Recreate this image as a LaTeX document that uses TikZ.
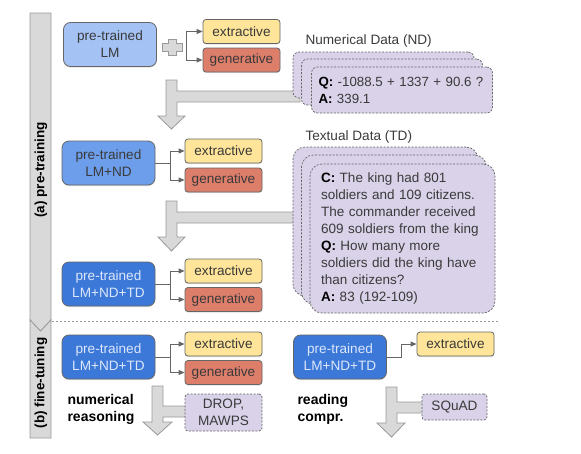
\documentclass[tikz,border=0pt]{standalone}
\usepackage{fontspec}
\setmainfont{Liberation Sans}
\usetikzlibrary{arrows.meta,shadows}
\definecolor{lmColor}{HTML}{A4C2F4}
\definecolor{lmndColor}{HTML}{6D9EEB}
\definecolor{lmndtdColor}{HTML}{3C78D8}
\definecolor{extColor}{HTML}{FFE599}
\definecolor{genColor}{HTML}{DD7E6B}
\definecolor{dataColor}{HTML}{D9D2E9}
\definecolor{barColor}{HTML}{D9D9D9}
\definecolor{barLine}{HTML}{999999}
\definecolor{lineGray}{HTML}{666666}
\definecolor{textGray}{HTML}{3A3A3A}
\definecolor{lightText}{HTML}{DCE7FB}

\begin{document}
\begin{tikzpicture}[x=1pt, y=-1pt, font=\fontsize{13.6}{17}\selectfont, text=textGray,
    lmbox/.style={rectangle, rounded corners=7pt, draw=lineGray, line width=0.8pt, minimum width=93pt, minimum height=44pt, inner sep=0pt, align=center, drop shadow={shadow xshift=0pt, shadow yshift=-1.2pt, opacity=0.25}},
    headbox/.style={rectangle, rounded corners=3pt, draw=lineGray, line width=0.8pt, minimum width=77pt, minimum height=24pt, inner sep=0pt, drop shadow={shadow xshift=0pt, shadow yshift=-1.2pt, opacity=0.25}},
    card/.style={rectangle, rounded corners=#1, draw=lineGray, dash pattern=on 2pt off 1.5pt, line width=0.7pt, fill=dataColor, inner sep=0pt, align=left},
    card/.default=6pt,
    conn/.style={draw=lineGray, line width=0.9pt, -{Triangle[length=6pt,width=5pt]}},
    bigarrow/.style={draw=barLine, fill=barColor, line width=0.8pt},
    sidelabel/.style={rotate=90, text=black, font=\fontsize{13.5}{16}\selectfont\bfseries},
    tasklabel/.style={text=black, align=left, anchor=west, font=\fontsize{14}{17}\selectfont\bfseries},
]
\useasboundingbox (0,0) rectangle (581,453);

% side bars
\draw[bigarrow] (30,13) -- (51,13) -- (51,320) -- (40.5,331) -- (30,320) -- cycle;
\draw[bigarrow] (30,320) -- (40.5,331) -- (51,320) -- (51,438) -- (30,438) -- cycle;
\node[sidelabel] (pretrain) at (41,170) {(a) pre-training};
\node[sidelabel] (finetune) at (41,383) {(b) fine-tuning};
\draw[barLine, line width=0.8pt, dash pattern=on 2pt off 2pt] (52,321) -- (498,321);

% data arrows
\draw[bigarrow] (166,80) -- (177,80) -- (177,91) -- (300,91) -- (300,102) -- (177,102) -- (177,116) -- (185,116) -- (171.5,129) -- (158,116) -- (166,116) -- cycle;
\draw[bigarrow] (166,201) -- (177,201) -- (177,212) -- (300,212) -- (300,223) -- (177,223) -- (177,237) -- (185,237) -- (171.5,251) -- (158,237) -- (166,237) -- cycle;
\draw[bigarrow] (152,386) -- (163,386) -- (163,406) -- (190,406) -- (190,417) -- (163,417) -- (163,422) -- (172,422) -- (157.5,435) -- (143,422) -- (152,422) -- cycle;
\draw[bigarrow] (386,387) -- (397,387) -- (397,402) -- (425,402) -- (425,413) -- (397,413) -- (397,423) -- (405,423) -- (391.5,437) -- (377,423) -- (386,423) -- cycle;

% numerical data
\node[anchor=west] (ndlabel) at (302,41) {Numerical Data (ND)};
\node[card, minimum width=181pt, minimum height=46pt] (ndback) at (383.5,75) {};
\node[card, minimum width=181pt, minimum height=46pt] (ndmid) at (392,82) {};
\node[card, minimum width=181pt, minimum height=46pt, text width=167pt, font=\fontsize{13.3}{17}\selectfont] (ndcard) at (402,90)
    {\textbf{\color{black}Q:} -1088.5 + 1337 + 90.6 ?\\\textbf{\color{black}A:} 339.1};

% textual data
\node[anchor=west] (tdlabel) at (302,137) {Textual Data (TD)};
\node[card=12pt, minimum width=185pt, minimum height=149pt] (tdback) at (385.5,221.5) {};
\node[card=12pt, minimum width=185pt, minimum height=149pt] (tdmid) at (394,229.5) {};
\node[card=12pt, minimum width=185pt, minimum height=149pt, text width=163pt, font=\fontsize{13.5}{17}\selectfont] (tdcard) at (402.5,238.5)
    {\textbf{\color{black}C:} The king had 801\\soldiers and 109 citizens.\\The commander received\\609 soldiers from the king\\\textbf{\color{black}Q:} How many more\\soldiers did the king have\\than citizens?\\\textbf{\color{black}A:} 83 (192-109)};

% pre-training models
\node[lmbox, fill=lmColor] (lm) at (110,44.5) {pre-trained\\LM};
\draw[bigarrow] (168,39) -- (176,39) -- (176,43) -- (182,43) -- (182,51) -- (176,51) -- (176,55) -- (168,55) -- (168,51) -- (162,51) -- (162,43) -- (168,43) -- cycle;
\coordinate (fork) at (186,46);
\node[headbox, fill=extColor] (ext1) at (241.5,31.5) {extractive};
\node[headbox, fill=genColor] (gen1) at (241.5,60) {generative};
\draw[conn] (fork) |- (ext1.west);
\draw[conn] (fork) |- (gen1.west);

\node[lmbox, fill=lmndColor] (lmnd) at (108.5,163) {pre-trained\\LM+ND};
\node[headbox, fill=extColor] (ext2) at (223.5,151) {extractive};
\node[headbox, fill=genColor] (gen2) at (223.5,180) {generative};
\draw[conn] (lmnd.east) -- ++(15,0) |- (ext2.west);
\draw[conn] (lmnd.east) -- ++(15,0) |- (gen2.west);

\node[lmbox, fill=lmndtdColor, text=lightText] (lmndtd) at (108.5,284) {pre-trained\\LM+ND+TD};
\node[headbox, fill=extColor] (ext3) at (223.5,271) {extractive};
\node[headbox, fill=genColor] (gen3) at (223.5,299.5) {generative};
\draw[conn] (lmndtd.east) -- ++(15,0) |- (ext3.west);
\draw[conn] (lmndtd.east) -- ++(15,0) |- (gen3.west);

% fine-tuning: numerical reasoning
\node[lmbox, fill=lmndtdColor, text=lightText] (numlm) at (108.5,357) {pre-trained\\LM+ND+TD};
\node[headbox, fill=extColor] (ext4) at (223.5,344) {extractive};
\node[headbox, fill=genColor] (gen4) at (223.5,372.5) {generative};
\draw[conn] (numlm.east) -- ++(15,0) |- (ext4.west);
\draw[conn] (numlm.east) -- ++(15,0) |- (gen4.west);
\node[tasklabel] (numtask) at (64,409) {numerical\\reasoning};
\node[card=3pt, minimum width=77pt, minimum height=37pt, align=center] (drop) at (223.5,412.5) {DROP,\\MAWPS};

% fine-tuning: reading comprehension
\node[lmbox, fill=lmndtdColor, text=lightText] (readlm) at (340,357) {pre-trained\\LM+ND+TD};
\node[headbox, fill=extColor] (ext5) at (455.5,344) {extractive};
\draw[conn] (readlm.east) -- ++(15,0) |- (ext5.west);
\node[tasklabel] (readtask) at (294,409) {reading\\compr.};
\node[card=3pt, minimum width=65pt, minimum height=26pt] (squad) at (454.5,407) {SQuAD};
\end{tikzpicture}
\end{document}
